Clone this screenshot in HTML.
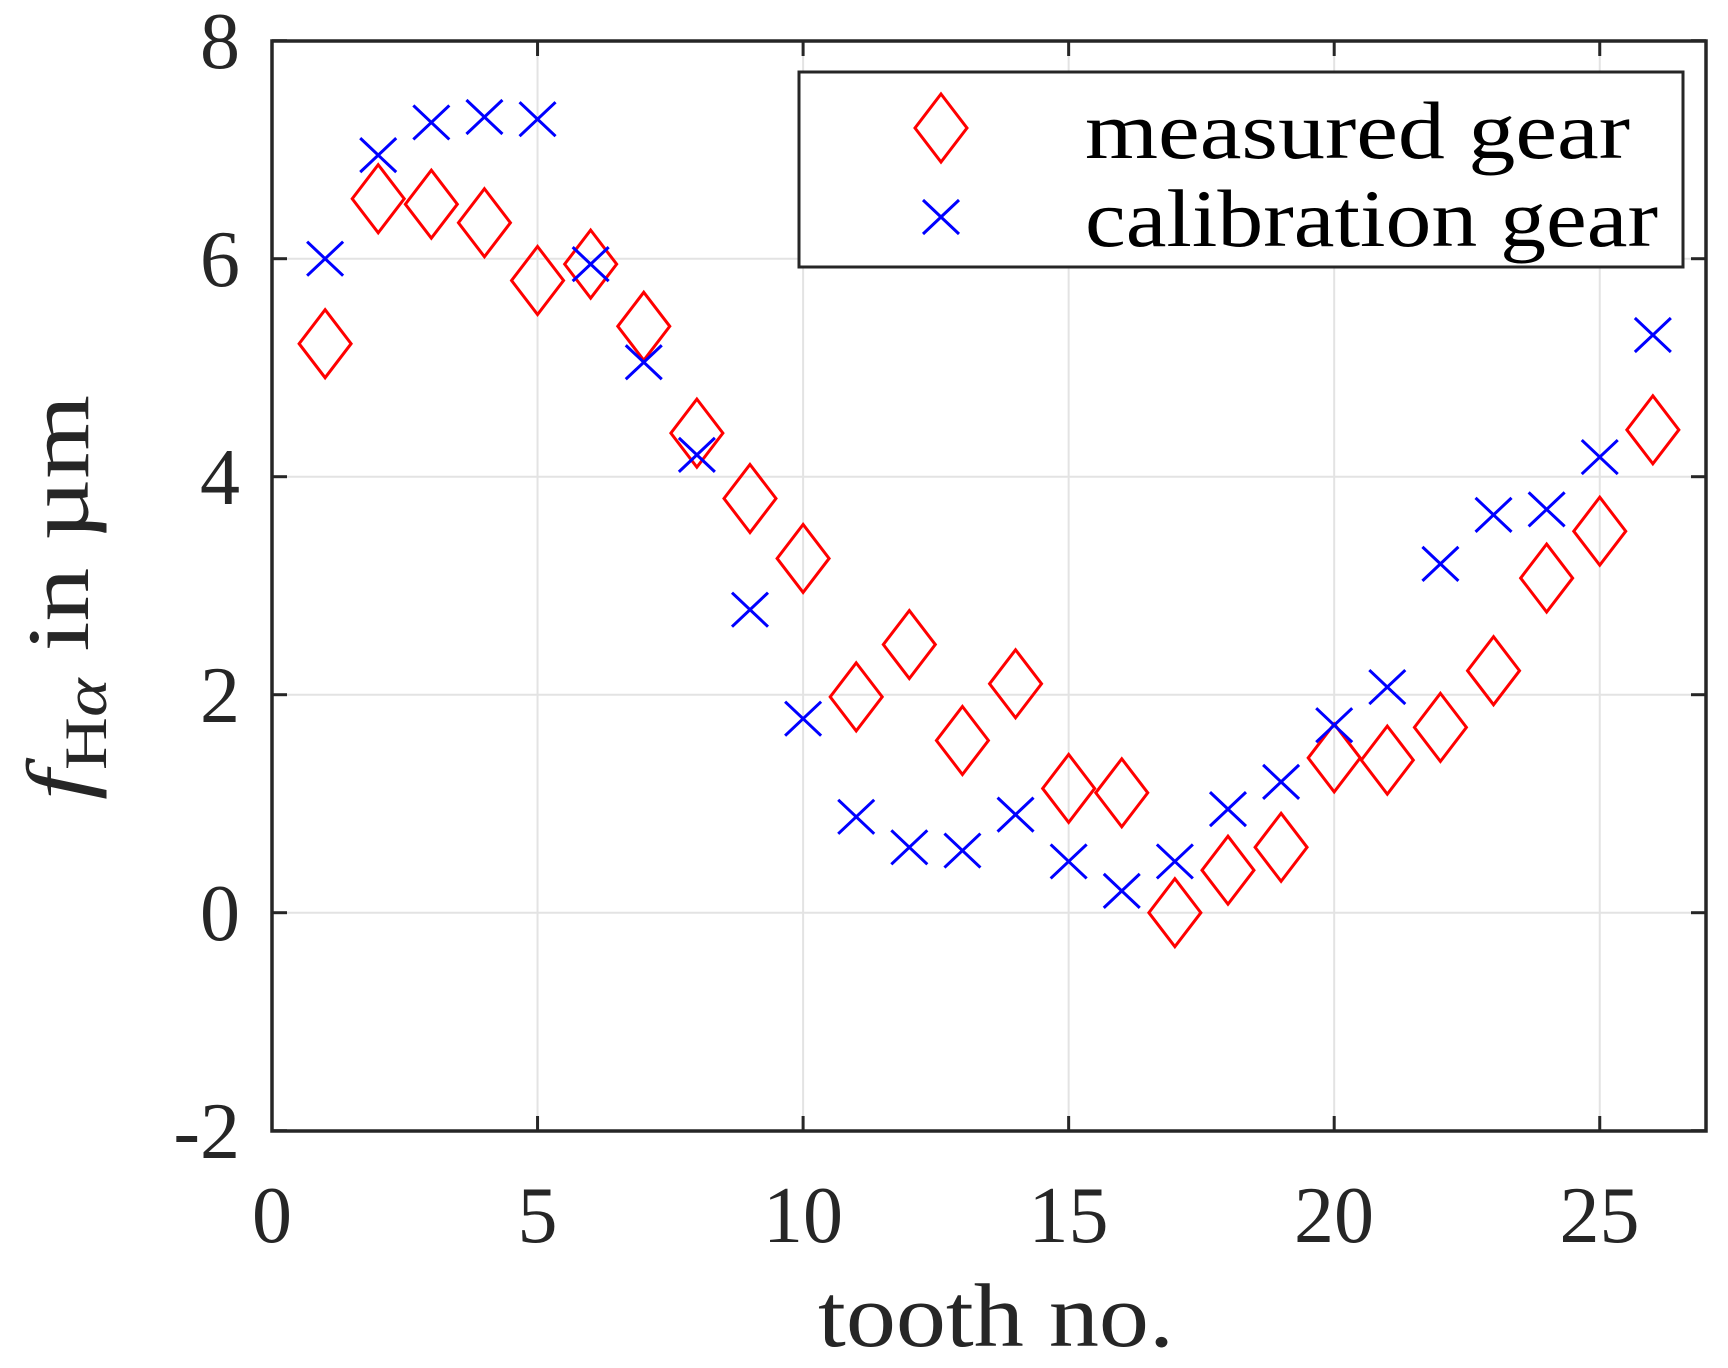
<!DOCTYPE html>
<html><head><meta charset="utf-8"><style>
html,body{margin:0;padding:0;background:#fff;}
svg{display:block;}
text{font-family:"Liberation Serif",serif;fill:#262626;}
</style></head><body>
<svg id="s" width="1728" height="1368" viewBox="0 0 1728 1368" xmlns="http://www.w3.org/2000/svg">
<g id="grid" stroke="#e3e3e3" stroke-width="2"></g>
<g id="ticks" stroke="#262626" stroke-width="3"></g>
<rect x="272" y="41" width="1434" height="1090" fill="none" stroke="#262626" stroke-width="3.5"/>
<g id="m"></g>
<g font-size="80" text-anchor="end">
<text x="240" y="68">8</text>
<text x="240" y="286">6</text>
<text x="240" y="504">4</text>
<text x="240" y="722">2</text>
<text x="240" y="940">0</text>
<text x="240" y="1158">-2</text>
</g>
<g font-size="80" text-anchor="middle">
<text x="272" y="1242">0</text>
<text x="537.5" y="1242">5</text>
<text x="803" y="1242">10</text>
<text x="1068.5" y="1242">15</text>
<text x="1334" y="1242">20</text>
<text x="1599.5" y="1242">25</text>
</g>
<text x="818" y="1346" font-size="90" textLength="356" lengthAdjust="spacingAndGlyphs">tooth no.</text>
<text transform="translate(88,800) rotate(-90)" font-size="88" textLength="405" lengthAdjust="spacingAndGlyphs"><tspan font-style="italic">f</tspan><tspan font-size="60" dy="18">H</tspan><tspan font-size="60" font-style="italic">α</tspan><tspan dy="-18"> in µm</tspan></text>
<rect x="799" y="72" width="884" height="195" fill="#fff" stroke="#262626" stroke-width="3"/>
<g font-size="82">
<text x="1085" y="158" style="fill:#000" textLength="545" lengthAdjust="spacingAndGlyphs">measured gear</text>
<text x="1085" y="246" style="fill:#000" textLength="573" lengthAdjust="spacingAndGlyphs">calibration gear</text>
</g>
<g id="leg"></g>
</svg>
<script>
var NS="http://www.w3.org/2000/svg";
function X(v){return 272+v*53.11;}
function Y(v){return 1130.7-(v+2)*109;}
function el(p,n,a){var e=document.createElementNS(NS,n);for(var k in a)e.setAttribute(k,a[k]);document.getElementById(p).appendChild(e);}
for(var i=5;i<27;i+=5){el('grid','line',{x1:X(i),x2:X(i),y1:41,y2:1131});}
for(var j=0;j<8;j+=2){el('grid','line',{x1:272,x2:1706,y1:Y(j),y2:Y(j)});}
for(var i=5;i<27;i+=5){el('ticks','line',{x1:X(i),x2:X(i),y1:1131,y2:1116});el('ticks','line',{x1:X(i),x2:X(i),y1:41,y2:56});}
for(var j=-2;j<=8;j+=2){el('ticks','line',{x1:272,x2:287,y1:Y(j),y2:Y(j)});el('ticks','line',{x1:1706,x2:1691,y1:Y(j),y2:Y(j)});}
var meas=[5.22,6.55,6.5,6.33,5.8,5.95,5.38,4.4,3.8,3.25,1.98,2.46,1.58,2.1,1.14,1.1,0,0.39,0.6,1.42,1.4,1.7,2.22,3.07,3.5,4.43];
var cal=[6.0,6.95,7.25,7.3,7.28,5.95,5.05,4.2,2.78,1.78,0.88,0.6,0.57,0.9,0.47,0.2,0.47,0.95,1.2,1.72,2.07,3.2,3.65,3.7,4.18,5.3];
function dia(p,x,y){el(p,'path',{d:'M'+x+' '+(y-34)+'L'+(x+26)+' '+y+'L'+x+' '+(y+34)+'L'+(x-26)+' '+y+'Z',fill:'none',stroke:'#ff0000','stroke-width':3});}
function cr(p,x,y){el(p,'path',{d:'M'+(x-18)+' '+(y-17)+'L'+(x+18)+' '+(y+17)+'M'+(x-18)+' '+(y+17)+'L'+(x+18)+' '+(y-17),fill:'none',stroke:'#0000ff','stroke-width':3});}
for(var i=0;i<26;i++){dia('m',X(i+1),Y(meas[i]));}
for(var i=0;i<26;i++){cr('m',X(i+1),Y(cal[i]));}
dia('leg',941,128);cr('leg',941,217);
</script>
</body></html>
